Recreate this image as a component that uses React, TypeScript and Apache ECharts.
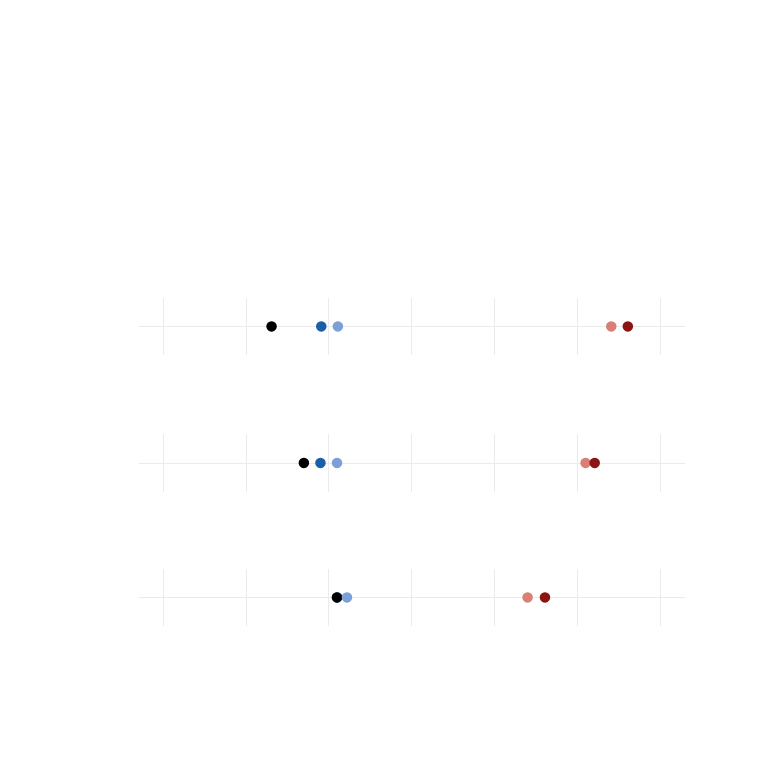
import React, { useEffect, useRef } from "react";
import * as echarts from "echarts";

const rowNames = ["Row 1", "Row 2", "Row 3"];
const seriesNames = ["Dark blue", "Black", "Light blue", "Light red", "Dark red"];
const seriesColors = ["#1a5fa8", "#000000", "#7b9fd6", "#d98075", "#8b1512"];
const darkBlueVals = [19.1, 19.0, 21.0];
const blackVals = [13.1, 17.0, 21.0];
const lightBlueVals = [21.1, 21.0, 22.2];
const lightRedVals = [54.1, 51.0, 44.0];
const darkRedVals = [56.1, 52.1, 46.1];
const allVals = [darkBlueVals, blackVals, lightBlueVals, lightRedVals, darkRedVals];

const gridTops = [298, 434, 569];
const gridHeights = [57, 58, 57];

export default function App() {
  const ref = useRef<HTMLDivElement>(null);
  useEffect(() => {
    if (!ref.current) return;
    const chart = echarts.init(ref.current, null, { renderer: "svg" });
    const lineStyle = { color: "#ebebeb", width: 1 };
    const grids = rowNames.map((_, i) => ({
      left: 139,
      right: 83,
      top: gridTops[i],
      height: gridHeights[i],
      containLabel: false,
    }));
    const xAxes = rowNames.map((_, i) => ({
      type: "value",
      gridIndex: i,
      min: -2.9,
      max: 63,
      splitNumber: 7,
      axisLine: { show: false },
      axisTick: { show: false },
      axisLabel: { show: false },
      splitLine: { show: true, showMinLine: false, showMaxLine: false, lineStyle },
    }));
    const yAxes = rowNames.map((_, i) => ({
      type: "value",
      gridIndex: i,
      min: -1,
      max: 1,
      interval: 1,
      axisLine: { show: false },
      axisTick: { show: false },
      axisLabel: { show: false },
      splitLine: { show: true, showMinLine: false, showMaxLine: false, lineStyle },
    }));
    const series: any[] = [];
    rowNames.forEach((_, i) => {
      allVals.forEach((vals, s) => {
        series.push({
          name: seriesNames[s],
          type: "scatter",
          xAxisIndex: i,
          yAxisIndex: i,
          symbolSize: 10.5,
          itemStyle: { color: seriesColors[s], opacity: 1 },
          data: [[vals[i], 0]],
          z: 2 + s,
        });
      });
    });
    chart.setOption({
      animation: false,
      backgroundColor: "#ffffff",
      grid: grids,
      xAxis: xAxes,
      yAxis: yAxes,
      series,
    });
    return () => chart.dispose();
  }, []);
  return (
    <div
      ref={ref}
      style={{ position: "absolute", left: 0, top: 0, width: 768, height: 780 }}
    />
  );
}
